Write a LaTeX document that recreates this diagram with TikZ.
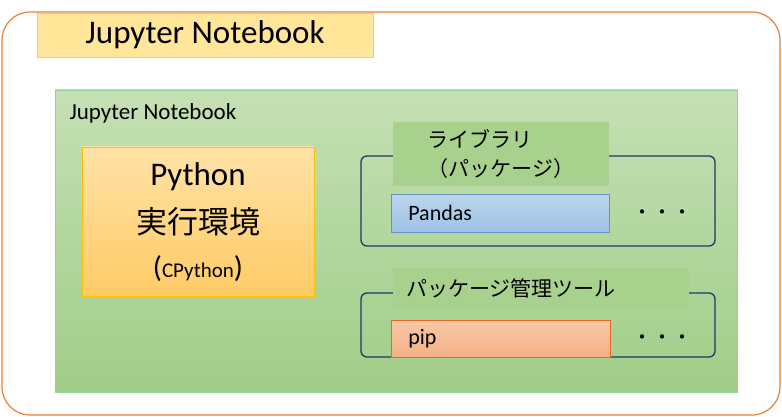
\documentclass[tikz,border=0pt]{standalone}
\usepackage{fontspec}
\setmainfont{Carlito}
\newfontfamily\cjk{Noto Sans CJK JP}
\definecolor{frameorange}{HTML}{ED7D31}
\definecolor{titlefill}{HTML}{FFE699}
\definecolor{greentop}{HTML}{C5E0B4}
\definecolor{greenbot}{HTML}{A0CD88}
\definecolor{labelgreen}{HTML}{A9D18E}
\definecolor{navy}{HTML}{1F3864}
\definecolor{pyborder}{HTML}{FFC000}
\definecolor{pytop}{HTML}{FFE2A6}
\definecolor{pybot}{HTML}{FFCB66}
\definecolor{pandasfill}{HTML}{9DC3E6}
\definecolor{pipfill}{HTML}{F4B183}
\tikzset{
  groupbox/.style={draw=navy,line width=1.3pt,rounded corners=6pt},
  labelbox/.style={fill=labelgreen,draw=none},
  dots/.style={font=\fontsize{20}{20}\selectfont\cjk}
}
\begin{document}
\begin{tikzpicture}[x=1pt,y=1pt,yscale=-1]
\useasboundingbox (0,0) rectangle (782,417);
% outer frame
\draw[frameorange,line width=1.2pt,rounded corners=28pt] (2,12) rectangle (780,415);
\node[draw=titlefill!70!orange,fill=titlefill,minimum width=336,minimum height=44,inner sep=0,font=\fontsize{33}{33}\selectfont] (title) at (205,35) {Jupyter Notebook};
% green area
\draw[draw=gray!60!green!60,top color=greentop,bottom color=greenbot] (55,90) rectangle (737,392);
\node[anchor=west,font=\fontsize{23}{23}\selectfont] (jn) at (66,113) {Jupyter Notebook};
% python
\node[draw=pyborder,top color=pytop,bottom color=pybot,minimum width=232,minimum height=149,inner sep=0] (py) at (198,221.5) {};
\node[font=\fontsize{33}{33}\selectfont] (pyname) at (198,177) {Python};
\node[font=\fontsize{31}{31}\selectfont\cjk] (pyenv) at (198,222) {実行環境};
\node (pyimpl) at (198,269) {{\fontsize{30}{30}\selectfont(}{\fontsize{21}{21}\selectfont CPython}{\fontsize{30}{30}\selectfont)}};
% library
\draw[groupbox] (361,156) rectangle (715,246);
\node[labelbox,minimum width=216,minimum height=64,inner sep=0,align=left,font=\fontsize{21}{29}\selectfont\cjk] (libl) at (501,154) {ライブラリ\\（パッケージ）};
\node[draw=blue!50!cyan!60!black!60,top color=pandasfill!70,bottom color=pandasfill,minimum width=218,minimum height=38,inner sep=0] (pandas) at (500,213) {};
\node[anchor=west,font=\fontsize{22}{22}\selectfont] at (pandas.west) [xshift=14] {Pandas};
\node[dots] (dots1) at (662,215) {・・・};
% package tool
\draw[groupbox] (361,293) rectangle (715,357);
\node[labelbox,minimum width=296,minimum height=40,inner sep=0] (pkgl) at (541,288) {};
\node[anchor=west,font=\fontsize{21}{21}\selectfont\cjk] at (pkgl.west) [xshift=10] {パッケージ管理ツール};
\node[draw=frameorange!80!red,top color=pipfill!70,bottom color=pipfill,minimum width=219,minimum height=37,inner sep=0] (pip) at (500.5,338.5) {};
\node[anchor=west,font=\fontsize{22}{22}\selectfont] at (pip.west) [xshift=14] {pip};
\node[dots] (dots2) at (662,340) {・・・};
\end{tikzpicture}
\end{document}
